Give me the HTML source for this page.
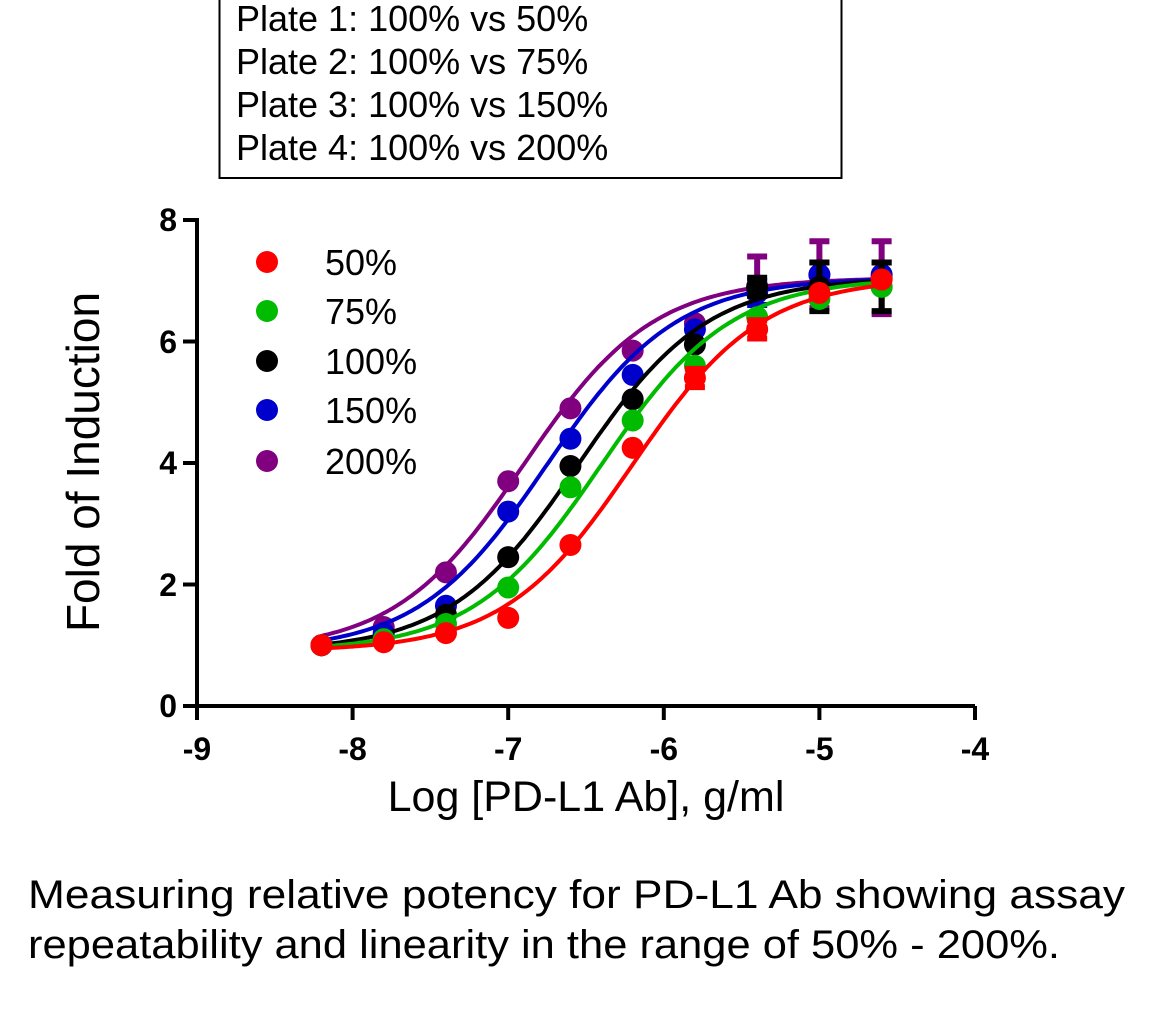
<!DOCTYPE html>
<html><head><style>
body{margin:0;background:#fff;width:1153px;height:1012px;overflow:hidden;font-family:"Liberation Sans",Arial,sans-serif}
</style></head><body>
<svg id="s" width="1153" height="1012" xmlns="http://www.w3.org/2000/svg" font-family="Liberation Sans, Arial, sans-serif">
<rect x="219.5" y="-5" width="622" height="183" fill="none" stroke="#000" stroke-width="2"/>
<g font-size="36" fill="#000">
<text x="236" y="31">Plate 1: 100% vs 50%</text>
<text x="236" y="74">Plate 2: 100% vs 75%</text>
<text x="236" y="117">Plate 3: 100% vs 150%</text>
<text x="236" y="160">Plate 4: 100% vs 200%</text>
</g>
<g stroke="#000" stroke-width="4" fill="none">
<path d="M183 220H197V706H975"/>
<path d="M183 341.5H197M183 463H197M183 584.5H197M183 706H197"/>
<path d="M197 706V720M352.6 706V720M508.2 706V720M663.8 706V720M819.4 706V720M975 706V720"/>
</g>
<g font-size="32" font-weight="bold" text-anchor="end">
<text x="177" y="231">8</text><text x="177" y="353">6</text><text x="177" y="474">4</text><text x="177" y="596">2</text><text x="177" y="717">0</text>
</g>
<g font-size="32" font-weight="bold" text-anchor="middle">
<text x="197" y="760">-9</text><text x="352.6" y="760">-8</text><text x="508.2" y="760">-7</text><text x="663.8" y="760">-6</text><text x="819.4" y="760">-5</text><text x="975" y="760">-4</text>
</g>
<text x="586" y="811" font-size="43" text-anchor="middle">Log [PD-L1 Ab], g/ml</text>
<text transform="translate(99,462) rotate(-90)" font-size="46" text-anchor="middle">Fold of Induction</text>
<g id="plot"></g>
<g font-size="36">
<circle cx="267" cy="262" r="11" fill="#ff0000"/><text x="325" y="275">50%</text>
<circle cx="267" cy="311" r="11" fill="#00bb00"/><text x="325" y="324">75%</text>
<circle cx="267" cy="361" r="11" fill="#000"/><text x="325" y="374">100%</text>
<circle cx="267" cy="410" r="11" fill="#0000cc"/><text x="325" y="423">150%</text>
<circle cx="267" cy="461" r="11" fill="#800080"/><text x="325" y="474">200%</text>
</g>
<g font-size="40">
<text x="28" y="908" textLength="1097" lengthAdjust="spacingAndGlyphs">Measuring relative potency for PD-L1 Ab showing assay</text>
<text x="28" y="958" textLength="1032" lengthAdjust="spacingAndGlyphs">repeatability and linearity in the range of 50% - 200%.</text>
</g>
</svg>
<script>
const X=v=>197+(v+9)*155.6, Y=v=>706-v*60.75;
const xs=[-8.2,-7.8,-7.4,-7.0,-6.6,-6.2,-5.8,-5.4,-5.0,-4.6];
const S=[
["#800080",-6.9,[1.0,1.3,2.2,3.7,4.9,5.85,6.3,6.9,7.1,7.05],[0,0,0,0,0,0,0,0.5,0.55,0.6]],
["#0000cc",-6.75,[1.0,1.2,1.65,3.2,4.4,5.45,6.2,6.8,7.1,7.1],[0,0,0,0,0,0,0,0.2,0.2,0.2]],
["#000000",-6.55,[1.0,1.1,1.5,2.45,3.95,5.05,5.95,6.9,6.9,6.9],[0,0,0,0,0,0,0,0.15,0.4,0.4]],
["#00bb00",-6.4,[1.0,1.1,1.35,1.95,3.6,4.7,5.6,6.4,6.7,6.9],[0,0,0,0,0,0,0,0,0,0]],
["#ff0000",-6.2,[1.0,1.05,1.2,1.45,2.65,4.25,5.4,6.2,6.8,7.02],[0,0,0,0,0,0,0.15,0.15,0,0]]];
let h='';
for(const [c,ec,ys,er] of S){
 let d='';for(let v=-8.2;v<=-4.6001;v+=0.02){const y=0.9+6.15/(1+Math.pow(10,(ec-v)*1.05));d+=(d?'L':'M')+X(v).toFixed(1)+' '+Y(y).toFixed(1);}
 h+=`<path d="${d}" stroke="${c}" stroke-width="4" fill="none"/>`;
 xs.forEach((x,i)=>{const e=er[i];if(e>0){const a=X(x);h+=`<path d="M${a} ${Y(ys[i]+e)}V${Y(ys[i]-e)}M${a-10} ${Y(ys[i]+e)}H${a+10}M${a-10} ${Y(ys[i]-e)}H${a+10}" stroke="${c}" stroke-width="6" fill="none"/>`;}
 h+=`<circle cx="${X(x)}" cy="${Y(ys[i])}" r="11" fill="${c}"/>`;});
}
document.getElementById('plot').innerHTML=h;
</script>
</body></html>
